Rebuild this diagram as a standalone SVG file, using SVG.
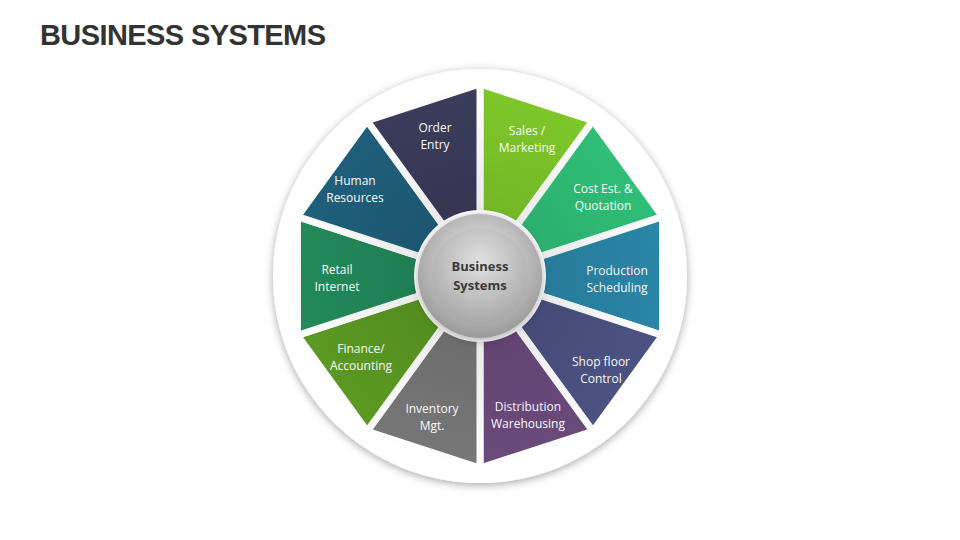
<svg xmlns="http://www.w3.org/2000/svg" width="960" height="540" viewBox="0 0 960 540">
<defs>
<filter id="sh" x="-20%" y="-20%" width="140%" height="140%"><feDropShadow dx="0" dy="2" stdDeviation="4" flood-color="#000" flood-opacity="0.35"/></filter>
<radialGradient id="hub" cx="50%" cy="40%" r="60%"><stop offset="0" stop-color="#f2f2f2"/><stop offset="1" stop-color="#9a9a9a"/></radialGradient>
<radialGradient id="hub2" cx="50%" cy="35%" r="65%"><stop offset="0" stop-color="#e0e0e0"/><stop offset="1" stop-color="#a8a8a8"/></radialGradient>
<radialGradient id="dark" cx="480" cy="276" r="192" gradientUnits="userSpaceOnUse"><stop offset="0.3" stop-color="#000" stop-opacity="0.3"/><stop offset="1" stop-color="#000" stop-opacity="0"/></radialGradient>
</defs>
<style>
.seg{stroke:#fff;stroke-width:7;stroke-linejoin:miter}
.lbl{font-family:"Open Sans","Liberation Sans",sans-serif;font-size:12px;fill:#fff;text-anchor:middle}
</style>
<rect width="960" height="540" fill="#fff"/>
<text x="40" y="45" font-family="'Liberation Sans',sans-serif" font-weight="bold" font-size="29" fill="#333" textLength="286">BUSINESS SYSTEMS</text>
<circle cx="480" cy="276" r="207" fill="#fff" filter="url(#sh)"/>
<g id="sales"><polygon class="seg" fill="#7ec82a" points="480,84 592.9,120.7 515.3,227.5 480,216"/><text class="lbl" x="527" y="135">Sales /</text><text class="lbl" x="527" y="152">Marketing</text></g>
<g id="cost"><polygon class="seg" fill="#2fbf78" points="592.9,120.7 662.6,216.7 537.1,257.5 515.3,227.5"/><text class="lbl" x="603" y="193">Cost Est. &amp;</text><text class="lbl" x="603" y="210">Quotation</text></g>
<g id="production"><polygon class="seg" fill="#2a86a8" points="662.6,216.7 662.6,335.3 537.1,294.5 537.1,257.5"/><text class="lbl" x="617" y="275">Production</text><text class="lbl" x="617" y="292">Scheduling</text></g>
<g id="shop"><polygon class="seg" fill="#4c5282" points="662.6,335.3 592.9,431.3 515.3,324.5 537.1,294.5"/><text class="lbl" x="601" y="366">Shop floor</text><text class="lbl" x="601" y="383">Control</text></g>
<g id="distribution"><polygon class="seg" fill="#6b4a7c" points="592.9,431.3 480,468 480,336 515.3,324.5"/><text class="lbl" x="528" y="411">Distribution</text><text class="lbl" x="528" y="428">Warehousing</text></g>
<g id="inventory"><polygon class="seg" fill="#777" points="480,468 367.1,431.3 444.7,324.5 480,336"/><text class="lbl" x="432" y="413">Inventory</text><text class="lbl" x="432" y="430">Mgt.</text></g>
<g id="finance"><polygon class="seg" fill="#5b9a22" points="367.1,431.3 297.4,335.3 422.9,294.5 444.7,324.5"/><text class="lbl" x="361" y="353">Finance/</text><text class="lbl" x="361" y="370">Accounting</text></g>
<g id="retail"><polygon class="seg" fill="#228a5a" points="297.4,335.3 297.4,216.7 422.9,257.5 422.9,294.5"/><text class="lbl" x="337" y="274">Retail</text><text class="lbl" x="337" y="291">Internet</text></g>
<g id="hr"><polygon class="seg" fill="#1f5f7b" points="297.4,216.7 367.1,120.7 444.7,227.5 422.9,257.5"/><text class="lbl" x="355" y="185">Human</text><text class="lbl" x="355" y="202">Resources</text></g>
<g id="order"><polygon class="seg" fill="#3b3b5b" points="367.1,120.7 480,84 480,216 444.7,227.5"/><text class="lbl" x="435" y="132">Order</text><text class="lbl" x="435" y="149">Entry</text></g>
<circle cx="480" cy="276" r="192" fill="url(#dark)" opacity="0.3"/>
<g id="center">
<circle cx="480" cy="276" r="66" fill="#fff"/>
<circle cx="480" cy="276" r="62" fill="url(#hub)" filter="url(#sh)"/>
<circle cx="480" cy="276" r="48" fill="url(#hub2)"/>
<text x="480" y="271" font-family="'Open Sans','Liberation Sans',sans-serif" font-weight="bold" font-size="13" fill="#3a3a3a" text-anchor="middle">Business</text>
<text x="480" y="290" font-family="'Open Sans','Liberation Sans',sans-serif" font-weight="bold" font-size="13" fill="#3a3a3a" text-anchor="middle">Systems</text>
</g>
<g id="connectors"/>
</svg>
